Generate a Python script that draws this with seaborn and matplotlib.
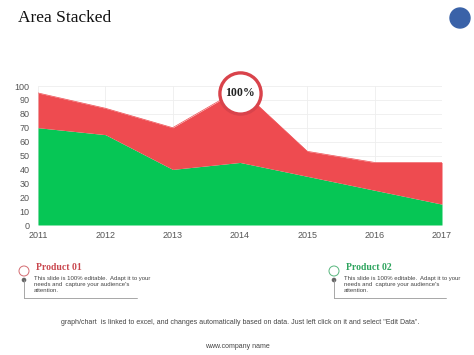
import numpy as np
import pandas as pd
import matplotlib.pyplot as plt
import seaborn as sns
from matplotlib.patches import Circle
from matplotlib.lines import Line2D

# values
years = [2011, 2012, 2013, 2014, 2015, 2016, 2017]
product_02 = [70, 65, 40, 45, 35, 25, 15]   # green, bottom layer
product_01 = [25, 19, 30, 53, 18, 20, 30]   # red, stacked on top
y_ticks = list(range(0, 101, 10))
peak_label = "100%"

red = "#EE4B50"
green = "#06C655"

sns.set_theme(style="whitegrid")
plt.rcParams["font.family"] = ["Liberation Sans", "DejaVu Sans"]

df = pd.DataFrame({"Year": years, "Product 02": product_02, "Product 01": product_01})
df["Top"] = df["Product 02"] + df["Product 01"]

fig = plt.figure(figsize=(4.74, 3.55), dpi=100)
ax = fig.add_axes([38 / 474, 1 - 225 / 355, 404 / 474, 139 / 355])

# stacked areas
ax.fill_between(df["Year"], 0, df["Product 02"], color=green, lw=0, zorder=2)
ax.fill_between(df["Year"], df["Product 02"], df["Top"], color=red, lw=0, zorder=2)
sns.lineplot(data=df, x="Year", y="Top", ax=ax, color=red, lw=0.5, zorder=3)

ax.set_xlim(years[0], years[-1])
ax.set_ylim(0, 100)
ax.set_xticks(years)
ax.set_yticks(y_ticks)
ax.set_xlabel("")
ax.set_ylabel("")
ax.tick_params(axis="both", labelsize=6.5, colors="#555555", length=0)
ax.tick_params(axis="x", pad=4)
ax.tick_params(axis="y", pad=6)
ax.grid(True, color="#eeeeee", lw=0.6)
for s in ax.spines.values():
    s.set_visible(False)

# peak callout, sitting just below the 2014 peak
i = years.index(2014)
cy = df["Top"][i] - 3
ax.scatter([2014], [cy], s=880, facecolor="white", edgecolor="#D9434B",
           linewidth=2.4, zorder=6, clip_on=False)
ax.text(2014, cy, peak_label, ha="center", va="center", fontsize=8.5,
        fontweight="bold", family="Liberation Serif", color="#222222", zorder=7)

# overlay in pixel coords for the slide decorations
ov = fig.add_axes([0, 0, 1, 1], facecolor="none")
ov.set_xlim(0, 474)
ov.set_ylim(355, 0)
ov.axis("off")

ov.text(18, 18, "Area Stacked", fontsize=12.5, family="Liberation Serif",
        color="#111111", va="center", ha="left")
ov.add_patch(Circle((460, 18), 10, color="#3A62A8"))

body = "This slide is 100% editable.  Adapt it to your\nneeds and  capture your audience's\nattention."
for x0, x1, name, col in [(24, 137, "Product 01", "#C9474E"), (334, 446, "Product 02", "#2EA45E")]:
    ov.add_patch(Circle((x0, 271), 5, fill=False, ec=col, lw=0.7, alpha=0.8))
    ov.add_patch(Circle((x0, 280), 1.6, color="#666666"))
    ov.add_line(Line2D([x0, x0], [280, 298], color="#999999", lw=0.6))
    ov.add_line(Line2D([x0, x1], [298, 298], color="#999999", lw=0.6))
    ov.text(x0 + 12, 267, name, fontsize=7, fontweight="bold", family="Liberation Serif",
            color=col, va="center", ha="left")
    ov.text(x0 + 10, 276, body, fontsize=4.3, color="#444444", va="top", ha="left",
            linespacing=1.3)

ov.text(240, 322, "graph/chart  is linked to excel, and changes automatically based on data. "
        "Just left click on it and select \"Edit Data\".", fontsize=5, color="#444444",
        ha="center", va="center")
ov.text(237, 346, "www.company name", fontsize=5, color="#444444", ha="center", va="center")

fig.savefig("out.png", dpi=100)
